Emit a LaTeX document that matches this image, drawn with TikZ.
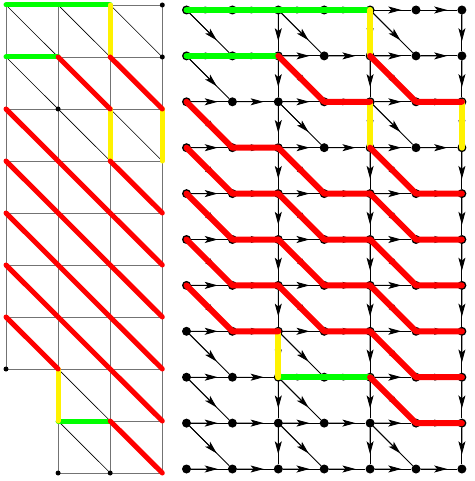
\documentclass[tikz,border=0pt]{standalone}
\usepackage{tikz}
\usetikzlibrary{arrows.meta,calc}
\definecolor{lime}{RGB}{0,255,0}

\begin{document}
\begin{tikzpicture}[x=1pt, y=-1pt,
  gridline/.style={draw=black!55, line width=0.9pt},
  diag/.style={draw=black, line width=0.6pt},
  corner/.style={circle, fill=black, inner sep=0pt, minimum size=5pt},
  vtx/.style={circle, fill=black, inner sep=0pt, minimum size=9pt},
  flow/.style={line width=0.9pt},
  tip/.style={line width=0.9pt, -{Stealth[length=13pt,width=7pt,inset=3pt]}},
  hot/.style={line width=#1, line cap=round, line join=round},
  redpath/.style={hot=#1, draw=red},
  greenpath/.style={hot=#1, draw=lime},
  yellowpath/.style={hot=#1, draw=yellow}
]
\useasboundingbox (0,0) rectangle (474,481);

% left: triangulated strip
\foreach \i in {0,...,3}
  \foreach \j in {0,...,9}
    \coordinate (g-\i-\j) at ({6+52.1*\i},{5+52*\j});

\foreach \j in {0,...,7}
  \draw[gridline] (g-0-\j) -- (g-3-\j);
\foreach \j in {8,9}
  \draw[gridline] (g-1-\j) -- (g-3-\j);
\draw[gridline] (g-0-0) -- (g-0-7);
\foreach \i in {1,2,3}
  \draw[gridline] (g-\i-0) -- (g-\i-9);

\foreach \i/\j in {0/0,1/0,2/0,0/1,1/1,2/1,0/2,1/2,2/2,0/3,1/3,2/3,0/4,1/4,2/4,
                   0/5,1/5,2/5,0/6,1/6,2/6,1/7,2/7,1/8,2/8} {
  \pgfmathtruncatemacro\ii{\i+1}
  \pgfmathtruncatemacro\jj{\j+1}
  \draw[diag] (g-\i-\j) -- (g-\ii-\jj);
}

\foreach \p in {3-0,3-1,1-2,0-7,1-9,2-9}
  \node[corner] (c-\p) at (g-\p) {};

\draw[greenpath=5pt] (g-0-0) -- (g-2-0);
\draw[greenpath=5pt] (g-0-1) -- (g-1-1);
\draw[greenpath=5pt] (g-1-8) -- (g-2-8);

\draw[yellowpath=5pt] (g-2-0) -- (g-2-1);
\draw[yellowpath=5pt] (g-2-2) -- (g-2-3);
\draw[yellowpath=5pt] (g-3-2) -- (g-3-3);
\draw[yellowpath=5pt] (g-1-7) -- (g-1-8);

\draw[redpath=5pt] (g-1-1) -- (g-2-2);
\draw[redpath=5pt] (g-2-1) -- (g-3-2);
\draw[redpath=5pt] (g-0-2) -- (g-3-5);
\draw[redpath=5pt] (g-0-3) -- (g-3-6);
\draw[redpath=5pt] (g-2-3) -- (g-3-4);
\draw[redpath=5pt] (g-0-4) -- (g-3-7);
\draw[redpath=5pt] (g-0-5) -- (g-3-8);
\draw[redpath=5pt] (g-0-6) -- (g-1-7);
\draw[redpath=5pt] (g-2-8) -- (g-3-9);

% right: directed graph
\foreach \c in {0,...,6}
  \foreach \r in {0,...,10}
    \node[vtx] (n-\c-\r) at ({186.5+45.9*\c},{10+45.9*\r}) {};

\foreach \c in {0,...,5}
  \foreach \r in {0,...,10} {
    \pgfmathtruncatemacro\cc{\c+1}
    \draw[flow] (n-\c-\r) -- (n-\cc-\r);
    \draw[tip] (n-\c-\r.center) -- ($(n-\c-\r.center)!0.68!(n-\cc-\r.center)$);
  }
\foreach \c in {2,4,6}
  \foreach \r in {0,...,9} {
    \pgfmathtruncatemacro\rr{\r+1}
    \draw[flow] (n-\c-\r) -- (n-\c-\rr);
    \draw[tip] (n-\c-\r.center) -- ($(n-\c-\r.center)!0.68!(n-\c-\rr.center)$);
  }
\foreach \c in {0,2,4}
  \foreach \r in {0,...,9} {
    \pgfmathtruncatemacro\cc{\c+1}
    \pgfmathtruncatemacro\rr{\r+1}
    \draw[flow] (n-\c-\r) -- (n-\cc-\rr);
    \draw[tip] (n-\c-\r.center) -- ($(n-\c-\r.center)!0.66!(n-\cc-\rr.center)$);
  }

\draw[greenpath=6pt] (n-0-0.center) -- (n-4-0.center);
\draw[greenpath=6pt] (n-0-1.center) -- (n-2-1.center);
\draw[greenpath=6pt] (n-2-8.center) -- (n-4-8.center);

\draw[yellowpath=6pt] (n-4-0.center) -- (n-4-1.center);
\draw[yellowpath=6pt] (n-4-2.center) -- (n-4-3.center);
\draw[yellowpath=6pt] (n-6-2.center) -- (n-6-3.center);
\draw[yellowpath=6pt] (n-2-7.center) -- (n-2-8.center);

\foreach \i/\j in {1/1,2/1,0/2,0/3,1/3,2/3,0/4,1/4,2/4,0/5,1/5,2/5,0/6,1/6,2/6,2/7,2/8} {
  \pgfmathtruncatemacro\a{2*\i}
  \pgfmathtruncatemacro\b{2*\i+1}
  \pgfmathtruncatemacro\e{2*\i+2}
  \pgfmathtruncatemacro\k{\j+1}
  \draw[redpath=6pt] (n-\a-\j.center) -- (n-\b-\k.center) -- (n-\e-\k.center);
}

\end{tikzpicture}
\end{document}
